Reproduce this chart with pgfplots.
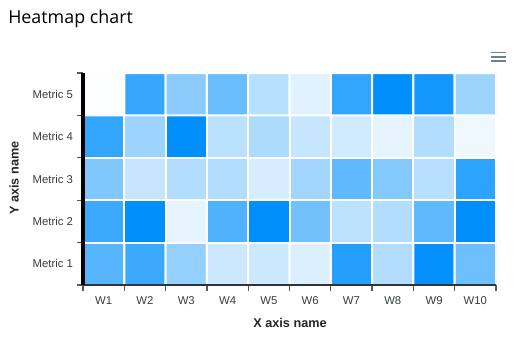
\documentclass[border=0pt]{standalone}
\usepackage{pgfplots}
\pgfplotsset{compat=1.18}
\usepackage{fontspec}
\setmainfont{Liberation Sans}
\newfontfamily\titlefont{Open Sans}
\definecolor{apexblue}{RGB}{0,143,251}
\definecolor{ticktext}{RGB}{55,61,63}
\definecolor{menugray}{RGB}{110,129,146}
\begin{document}
\begin{tikzpicture}
\path[fill=white] (0pt,0pt) rectangle (390pt,-257.25pt);
\node[anchor=base west, inner sep=0pt, font=\titlefont\fontsize{13.4}{15}\selectfont] at (6pt,-17.5pt) {Heatmap chart};
\foreach \yy in {39.4,42.6,45.8} {
  \draw[menugray, line width=1.1pt] (368.5pt,-\yy pt) -- (379.5pt,-\yy pt);
}
\begin{axis}[
  at={(62.25pt,-213.75pt)}, anchor=south west,
  scale only axis, width=309.75pt, height=159pt,
  xmin=0.5, xmax=10.5, ymin=0.5, ymax=5.5,
  enlargelimits=false,
  axis on top,
  axis lines*=left,
  x axis line style={-, line width=1.3pt, draw=black!80},
  y axis line style={-, line width=2.4pt, draw=black},
  xtick={1,...,10},
  xticklabels={W1,W2,W3,W4,W5,W6,W7,W8,W9,W10},
  ytick={1,...,5},
  yticklabels={Metric 1,Metric 2,Metric 3,Metric 4,Metric 5},
  minor xtick={0.5,1.5,...,10.5},
  minor ytick={0.5,1.5,...,5.5},
  major tick length=0pt,
  minor tick length=4.5pt,
  tick align=outside,
  every minor tick/.style={draw=black!65, line width=1pt},
  tick label style={font=\fontsize{8.5}{10}\selectfont, text=ticktext},
  xticklabel style={yshift=-5.5pt},
  yticklabel style={xshift=-4pt},
  colormap={apex}{color=(white) color=(apexblue)},
  point meta min=0, point meta max=100,
]
\addplot[matrix plot*, mesh/cols=10, point meta=explicit, shader=faceted, faceted color=white, line width=1.5pt] table[meta=c] {
x y c
1 1 66
2 1 76
3 1 42
4 1 20
5 1 20
6 1 14
7 1 85
8 1 30
9 1 98
10 1 57
1 2 76
2 2 100
3 2 10
4 2 68
5 2 100
6 2 55
7 2 26
8 2 30
9 2 62
10 2 100
1 3 50
2 3 22
3 3 30
4 3 30
5 3 16
6 3 36
7 3 62
8 3 48
9 3 28
10 3 82
1 4 80
2 4 38
3 4 100
4 4 27
5 4 32
6 4 22
7 4 18
8 4 10
9 4 30
10 4 6
1 5 1
2 5 78
3 5 45
4 5 58
5 5 28
6 5 12
7 5 80
8 5 100
9 5 92
10 5 38
};
\end{axis}
\node[font=\bfseries\fontsize{9.5}{11}\selectfont, text=black!85] at (217.5pt,-242pt) {X axis name};
\node[font=\bfseries\fontsize{9.5}{11}\selectfont, text=black!85, rotate=90] at (10.5pt,-133.5pt) {Y axis name};
\end{tikzpicture}
\end{document}
